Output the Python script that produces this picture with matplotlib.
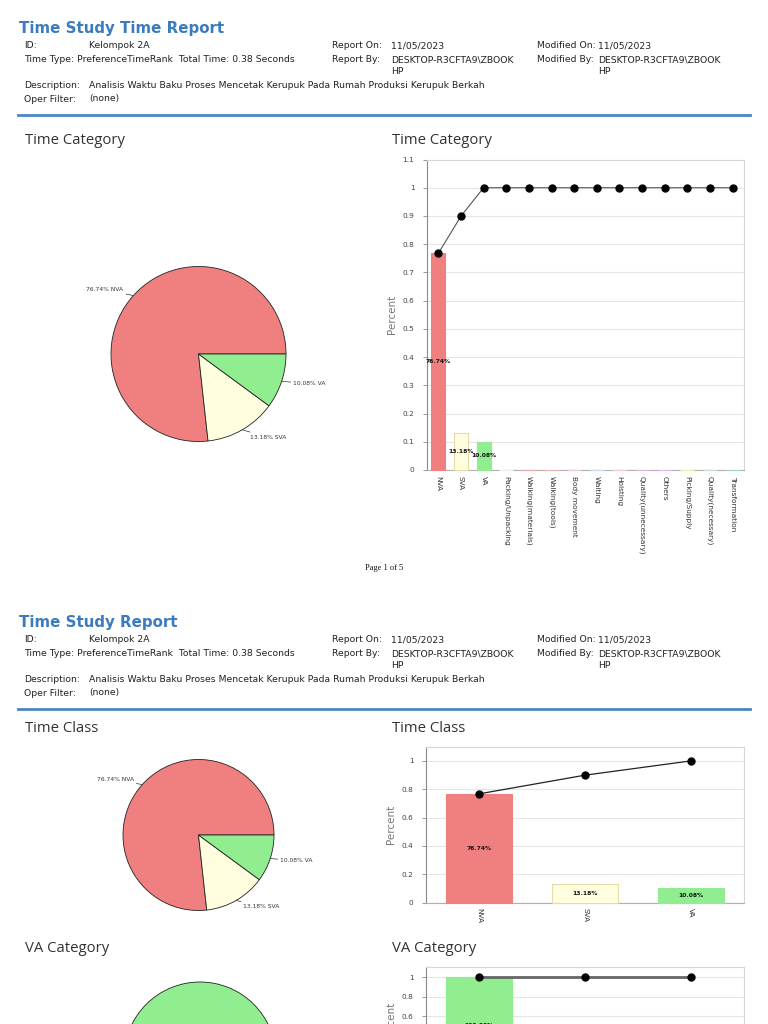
import numpy as np
import matplotlib
matplotlib.use("Agg")
import matplotlib.pyplot as plt
from matplotlib.lines import Line2D
from matplotlib.ticker import FuncFormatter

W, H = 768, 1024

# --- data ---
time_cat_labels = ["NVA", "SVA", "VA", "Packing/Unpacking", "Walking(materials)",
                   "Walking(tools)", "Body movement", "Waiting", "Hoisting",
                   "Quality(unnecessary)", "Others", "Picking/Supply",
                   "Quality(necessary)", "Transformation"]
time_cat_values = [0.7674, 0.1318, 0.1008, 0, 0, 0, 0, 0, 0, 0, 0, 0, 0, 0]
time_cat_cum = [0.7674, 0.8992, 1.0, 1.0, 1.0, 1.0, 1.0, 1.0, 1.0, 1.0, 1.0, 1.0, 1.0, 1.0]
time_cat_colors = ["#f08080", "#ffffe0", "#90ee90", "#eeeeee", "#f2a8a8", "#f0b8b8",
                   "#e6c6e6", "#c9d9ea", "#f0c8d8", "#d8b8e0", "#e2b4f0", "#f0f0a0",
                   "#c0e0d0", "#a8d4d4"]

class_labels = ["NVA", "SVA", "VA"]
class_values = [0.7674, 0.1318, 0.1008]
class_cum = [0.7674, 0.8992, 1.0]
class_colors = ["#f08080", "#ffffe0", "#90ee90"]

va_labels = ["VA", "Transformation", "Picking/Supply"]
va_values = [1.0, 0, 0]
va_cum = [1.0, 1.0, 1.0]
va_colors = ["#90ee90", "#a8d4d4", "#f0f0a0"]

report_id = "Kelompok 2A"
time_type = "Time Type: PreferenceTimeRank  Total Time: 0.38 Seconds"
report_on = "11/05/2023"
report_by = "DESKTOP-R3CFTA9\\ZBOOK"
description = "Analisis Waktu Baku Proses Mencetak Kerupuk Pada Rumah Produksi Kerupuk Berkah"
oper_filter = "(none)"

BLUE = "#3b7bbf"
META_FONT = dict(fontsize=6.7, color="#222", family="DejaVu Sans", va="center")

fig = plt.figure(figsize=(W / 100, H / 100), dpi=100)


def px_axes(left, top, right, bottom):
    return fig.add_axes([left / W, 1 - bottom / H, (right - left) / W, (bottom - top) / H])


def ftext(x, y, s, **kw):
    fig.text(x / W, 1 - y / H, s, **kw)


def draw_header(title, y0):
    ftext(19, y0, title, fontsize=10.8, fontweight="bold", color=BLUE, va="center")
    ftext(24, y0 + 17, "ID:", **META_FONT)
    ftext(89, y0 + 17, report_id, **META_FONT)
    ftext(24, y0 + 31, time_type, **META_FONT)
    ftext(332, y0 + 17, "Report On:", **META_FONT)
    ftext(391, y0 + 17, report_on, **META_FONT)
    ftext(332, y0 + 31, "Report By:", **META_FONT)
    ftext(391, y0 + 31, report_by, **META_FONT)
    ftext(391, y0 + 43, "HP", **META_FONT)
    ftext(537, y0 + 17, "Modified On:", **META_FONT)
    ftext(598, y0 + 17, report_on, **META_FONT)
    ftext(537, y0 + 31, "Modified By:", **META_FONT)
    ftext(598, y0 + 31, report_by, **META_FONT)
    ftext(598, y0 + 43, "HP", **META_FONT)
    ftext(24, y0 + 56, "Description:", **META_FONT)
    ftext(89, y0 + 56, description, **META_FONT)
    ftext(24, y0 + 70, "Oper Filter:", **META_FONT)
    ftext(89, y0 + 70, oper_filter, **META_FONT)
    yy = 1 - (y0 + 86) / H
    fig.add_artist(Line2D([18 / W, 750 / W], [yy, yy], color="#4a86c0", lw=2))


def section_title(x, y, s):
    ftext(x, y, s, fontsize=10.7, color="#333", family="Open Sans", va="center")


def draw_pie(cx, cy, r, values, labels, colors, show_labels=True):
    ax = px_axes(cx - 1.5 * r, cy - 1.5 * r, cx + 1.5 * r, cy + 1.5 * r)
    wedges, _ = ax.pie(values, colors=colors, startangle=0, counterclock=True,
                       wedgeprops=dict(edgecolor="#222", linewidth=0.6))
    ax.set_xlim(-1.5, 1.5)
    ax.set_ylim(-1.5, 1.5)
    ax.set_aspect("equal")
    ax.axis("off")
    if not show_labels:
        return
    for w, v, lab in zip(wedges, values, labels):
        ang = np.deg2rad((w.theta1 + w.theta2) / 2)
        x, y = np.cos(ang), np.sin(ang)
        side = 1 if x >= 0 else -1
        ax.annotate(f"{v * 100:.2f}% {lab}", xy=(x, y),
                    xytext=(1.1 * x + 0.04 * side, 1.1 * y),
                    ha="left" if side > 0 else "right", va="center",
                    fontsize=4.3, color="#333", annotation_clip=False,
                    arrowprops=dict(arrowstyle="-", color="#333", lw=0.5,
                                    shrinkA=0, shrinkB=0))


def draw_pareto(box, labels, values, cum, colors, yticks, line_color, line_w,
                xfont=5.3):
    ax = px_axes(*box)
    x = np.arange(len(labels))
    edges = ["#e2dca8" if c == "#ffffe0" else c for c in colors]
    ax.bar(x, values, width=0.62, color=colors, edgecolor=edges, linewidth=0.8,
           zorder=3, clip_on=False)
    ax.plot(x, cum, color=line_color, lw=line_w, marker="o", ms=5, mfc="black",
            mec="black", zorder=5, clip_on=False)
    for xi, v in zip(x, values):
        if v > 0:
            ax.text(xi, v / 2, f"{v * 100:.2f}%", ha="center", va="center",
                    fontsize=4.3, fontweight="bold", color="#111", zorder=6)
    ax.set_xlim(-0.5, len(labels) - 0.5)
    ax.set_ylim(0, 1.1)
    ax.set_yticks(yticks)
    ax.yaxis.set_major_formatter(FuncFormatter(lambda v, p: f"{v:g}"))
    ax.grid(axis="y", color="#e6e6e6", lw=0.8)
    ax.set_axisbelow(True)
    ax.set_xticks(x)
    ax.set_xticklabels(labels, rotation=270, fontsize=xfont, color="#333")
    ax.tick_params(axis="x", length=0, pad=4)
    ax.tick_params(axis="y", length=3, width=0.6, labelsize=5.3, colors="#888",
                   labelcolor="#444", pad=6)
    for s in ax.spines.values():
        s.set_color("#d6d6d6")
        s.set_linewidth(0.8)
    ax.spines["left"].set_color("#8a8a8a")
    ax.spines["bottom"].set_color("#b0b0b0")
    width_px = box[2] - box[0]
    ax.set_ylabel("Percent", fontsize=7.5, color="#777")
    ax.yaxis.set_label_coords(-30 / width_px, 0.5)
    return ax


# --- page 1 ---
draw_header("Time Study Time Report", 29)
section_title(25, 140, "Time Category")
section_title(392, 140, "Time Category")
draw_pie(198.5, 354, 87.5, class_values, class_labels, class_colors)
draw_pareto((427, 159.5, 744, 470), time_cat_labels, time_cat_values, time_cat_cum,
            time_cat_colors, np.round(np.arange(0, 1.11, 0.1), 1), "#555", 0.8)
ftext(384, 568, "Page 1 of 5", fontsize=6, family="Liberation Serif", ha="center",
      va="center", color="#111")

# --- page 2 ---
draw_header("Time Study Report", 623)
section_title(25, 728, "Time Class")
section_title(392, 728, "Time Class")
draw_pie(198.5, 835, 75.5, class_values, class_labels, class_colors)
draw_pareto((426, 746.7, 744, 902.7), class_labels, class_values, class_cum,
            class_colors, [0, 0.2, 0.4, 0.6, 0.8, 1.0], "#222", 0.9)

section_title(25, 948, "VA Category")
section_title(392, 948, "VA Category")
draw_pie(200, 1058, 76, va_values[:1], va_labels[:1], va_colors[:1], show_labels=False)
draw_pareto((426, 967.3, 744, 1074.5), va_labels, va_values, va_cum,
            va_colors, [0, 0.2, 0.4, 0.6, 0.8, 1.0], "#666", 2.0)

fig.savefig("out.png", dpi=100)
